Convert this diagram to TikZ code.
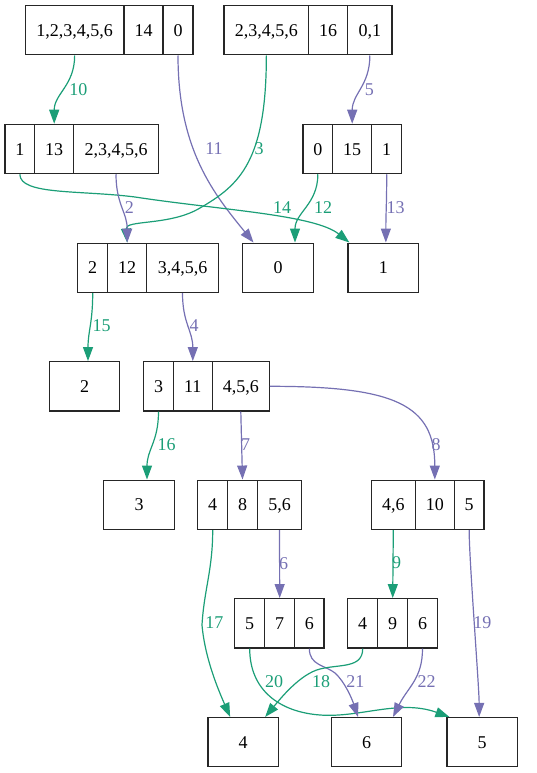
\documentclass[tikz,border=0pt]{standalone}
\usepackage{fontspec}
\setmainfont{Liberation Serif}
\usetikzlibrary{arrows.meta}
\definecolor{dgreen}{HTML}{1B9E77}
\definecolor{dpurple}{HTML}{7570B3}
\tikzset{
  cellbox/.style={draw=black!85, line width=1.2pt, inner sep=0pt, minimum height=49.3pt,
    text height=12.2pt, text depth=0pt, font=\fontsize{18}{20}\selectfont},
  edg/.style={line width=1.2pt, -{Triangle[length=14pt,width=10pt]}},
  ge/.style={edg, draw=dgreen},
  pe/.style={edg, draw=dpurple},
  glab/.style={text=dgreen, inner sep=0pt, font=\fontsize{18}{20}\selectfont},
  plab/.style={text=dpurple, inner sep=0pt, font=\fontsize{18}{20}\selectfont},
}
\newcommand\rcell[5]{\node[cellbox,minimum width=#4pt] (#1) at (#2,#3) {#5};}
\begin{document}
\begin{tikzpicture}[x=1pt,y=-1pt]
\useasboundingbox (0,0) rectangle (536,773);
% row 1
\rcell{A1}{74.65}{30.25}{98.7}{1,2,3,4,5,6}
\rcell{A2}{143.5}{30.25}{39}{14}
\rcell{A3}{178}{30.25}{30}{0}
\rcell{B1}{266.35}{30.25}{84.7}{2,3,4,5,6}
\rcell{B2}{328.2}{30.25}{39}{16}
\rcell{B3}{369.85}{30.25}{44.3}{0,1}
% row 2
\rcell{C1}{19.85}{149}{29.7}{1}
\rcell{C2}{54.2}{149}{39}{13}
\rcell{C3}{116}{149}{84.6}{2,3,4,5,6}
\rcell{D1}{317.85}{149}{29.7}{0}
\rcell{D2}{352.2}{149}{39}{15}
\rcell{D3}{386.7}{149}{30}{1}
% row 3
\rcell{E1}{92.7}{267.8}{30}{2}
\rcell{E2}{127.2}{267.8}{39}{12}
\rcell{E3}{182.5}{267.8}{71.6}{3,4,5,6}
\rcell{F}{278}{267.8}{70.6}{0}
\rcell{G}{383.35}{267.8}{70.7}{1}
% row 4
\rcell{H}{84.5}{386.3}{70.4}{2}
\rcell{I1}{158.5}{386.3}{29.6}{3}
\rcell{I2}{192.8}{386.3}{39}{11}
\rcell{I3}{240.8}{386.3}{57}{4,5,6}
% row 5
\rcell{J}{139}{504.8}{70.6}{3}
\rcell{K1}{212.7}{504.8}{30}{4}
\rcell{K2}{242.5}{504.8}{29.6}{8}
\rcell{K3}{279.5}{504.8}{44.4}{5,6}
\rcell{L1}{393.3}{504.8}{44}{4,6}
\rcell{L2}{434.8}{504.8}{39}{10}
\rcell{L3}{469.15}{504.8}{29.7}{5}
% row 6
\rcell{M1}{249.7}{623.3}{30}{5}
\rcell{M2}{279.7}{623.3}{30}{7}
\rcell{M3}{309.35}{623.3}{29.3}{6}
\rcell{N1}{362.7}{623.3}{30}{4}
\rcell{N2}{392.7}{623.3}{30}{9}
\rcell{N3}{422.5}{623.3}{29.6}{6}
% row 7
\rcell{O}{243.15}{742.2}{70.3}{4}
\rcell{P}{366.5}{742.2}{70.4}{6}
\rcell{Q}{482.15}{742.2}{70.3}{5}
% edges
\draw[ge] (A1.south) .. controls +(0,30) and +(0,-30) .. (C2.north);
\draw[pe] (A3.south) .. controls +(0,95) and +(-39,-48) .. ([xshift=-24.5pt]F.north);
\draw[ge] (B1.south) .. controls +(0,105) and +(40,-23) .. (200,208) .. controls +(-30,18) and +(-2,-23) .. (E2.north);
\draw[pe] (B3.south) .. controls +(0,30) and +(0,-30) .. (D2.north);
\draw[ge] (C1.south) .. controls +(0,21) and +(-55,-7) .. (135,197) .. controls +(85,13) and +(-35,-28) .. ([xshift=2pt]G.north west);
\draw[pe] (C3.south) .. controls +(0,30) and +(0,-30) .. (E2.north);
\draw[ge] (D1.south) .. controls +(0,30) and +(0,-30) .. ([xshift=17pt]F.north);
\draw[pe] (D3.south) .. controls +(0,30) and +(0,-30) .. ([xshift=2.5pt]G.north);
\draw[ge] (E1.south) .. controls +(0,30) and +(0,-30) .. ([xshift=3.5pt]H.north);
\draw[pe] (E3.south) .. controls +(0,30) and +(0,-30) .. (I2.north);
\draw[ge] (I1.south) .. controls +(0,30) and +(0,-30) .. ([xshift=8pt]J.north);
\draw[pe] (I3.south) -- (K2.north);
\draw[pe] (I3.east) .. controls +(125,0) and +(0,-75) .. (L2.north);
\draw[ge] (K1.south) .. controls +(0,40) and +(2,-35) .. (202,625) .. controls +(3,35) and +(-10,-23) .. ([xshift=-13pt]O.north);
\draw[pe] (K3.south) -- (M2.north);
\draw[ge] (L1.south) -- (N2.north);
\draw[pe] (L3.south) .. controls +(0,30) and +(0,-30) .. ([xshift=-3pt]Q.north);
\draw[ge] (M1.south) .. controls +(0,42) and +(-40,-3) .. (320,715) .. controls +(40,3) and +(-50,-18) .. ([xshift=3pt]Q.north west);
\draw[pe] (M3.south) .. controls +(0,17) and +(-10,-8) .. (335,673) .. controls +(10,9) and +(-6,-18) .. ([xshift=-8.5pt]P.north);
\draw[ge] (N1.south) .. controls +(0,20) and +(20,-5) .. (320,669) .. controls +(-20,5) and +(15,-18) .. ([xshift=22pt]O.north);
\draw[pe] (N3.south) .. controls +(0,30) and +(15,-30) .. ([xshift=26.5pt]P.north);
% labels
\node[glab] (l10) at (78.3,89.3) {10};
\node[plab] (l11) at (214,149) {11};
\node[glab] (l3) at (259,149) {3};
\node[plab] (l5) at (369.3,89.3) {5};
\node[glab] (l14) at (282,208) {14};
\node[glab] (l12) at (323,208) {12};
\node[plab] (l13) at (395.7,208) {13};
\node[plab] (l2) at (129.3,208) {2};
\node[glab] (l15) at (101.7,326) {15};
\node[plab] (l4) at (194,326) {4};
\node[glab] (l16) at (166.7,445) {16};
\node[plab] (l7) at (245.7,445) {7};
\node[plab] (l8) at (436,445) {8};
\node[plab] (l6) at (283.7,563.3) {6};
\node[glab] (l9) at (396.7,563) {9};
\node[glab] (l17) at (214.3,623) {17};
\node[plab] (l19) at (482.3,623) {19};
\node[glab] (l20) at (274,682) {20};
\node[glab] (l18) at (321,682) {18};
\node[plab] (l21) at (355.3,682) {21};
\node[plab] (l22) at (426.7,682) {22};
\end{tikzpicture}
\end{document}
